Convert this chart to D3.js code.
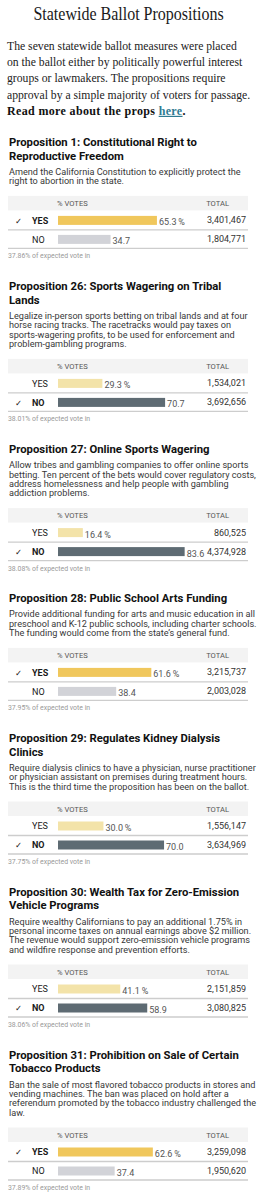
<!DOCTYPE html>
<html>
<head>
<meta charset="utf-8">
<script src="https://cdn.jsdelivr.net/npm/d3@7"></script>
<style>
  html, body { margin: 0; padding: 0; background: #fff; }
  svg { display: block; }
  .sans { font-family: Roboto, "Liberation Sans", sans-serif; }
  .serif { font-family: "Liberation Serif", "DejaVu Serif", serif; }
</style>
</head>
<body>
<svg></svg>
<script>
var pageTitle = "Statewide Ballot Propositions";
var introLines = [
  "The seven statewide ballot measures were placed",
  "on the ballot either by politically powerful interest",
  "groups or lawmakers. The propositions require",
  "approval by a simple majority of voters for passage."
];
var introLink = ["Read more about the props ", "here", "."];

var titleLines = [
  ["Proposition 1: Constitutional Right to", "Reproductive Freedom"],
  ["Proposition 26: Sports Wagering on Tribal", "Lands"],
  ["Proposition 27: Online Sports Wagering"],
  ["Proposition 28: Public School Arts Funding"],
  ["Proposition 29: Regulates Kidney Dialysis", "Clinics"],
  ["Proposition 30: Wealth Tax for Zero-Emission", "Vehicle Programs"],
  ["Proposition 31: Prohibition on Sale of Certain", "Tobacco Products"]
];
var descLines = [
  ["Amend the California Constitution to explicitly protect the",
   "right to abortion in the state."],
  ["Legalize in-person sports betting on tribal lands and at four",
   "horse racing tracks. The racetracks would pay taxes on",
   "sports-wagering profits, to be used for enforcement and",
   "problem-gambling programs."],
  ["Allow tribes and gambling companies to offer online sports",
   "betting. Ten percent of the bets would cover regulatory costs,",
   "address homelessness and help people with gambling",
   "addiction problems."],
  ["Provide additional funding for arts and music education in all",
   "preschool and K-12 public schools, including charter schools.",
   "The funding would come from the state\u2019s general fund."],
  ["Require dialysis clinics to have a physician, nurse practitioner",
   "or physician assistant on premises during treatment hours.",
   "This is the third time the proposition has been on the ballot."],
  ["Require wealthy Californians to pay an additional 1.75% in",
   "personal income taxes on annual earnings above $2 million.",
   "The revenue would support zero-emission vehicle programs",
   "and wildfire response and prevention efforts."],
  ["Ban the sale of most flavored tobacco products in stores and",
   "vending machines. The ban was placed on hold after a",
   "referendum promoted by the tobacco industry challenged the",
   "law."]
];
var yesPct = [65.3, 29.3, 16.4, 61.6, 30.0, 41.1, 62.6];
var noPct = [34.7, 70.7, 83.6, 38.4, 70.0, 58.9, 37.4];
var yesVotes = [3401467, 1534021, 860525, 3215737, 1556147, 2151859, 3259098];
var noVotes = [1804771, 3692656, 4374928, 2003028, 3634969, 3080825, 1950620];
var reporting = [37.86, 38.01, 38.08, 37.95, 37.75, 38.06, 37.89];
var headerLabels = ["% VOTES", "TOTAL"];

var width = 257, height = 1200;
var svg = d3.select("svg").attr("width", width).attr("height", height);

var colors = {
  YES: { win: "#f0c75c", lose: "#f3e3a9" },
  NO:  { win: "#5e6b73", lose: "#d2d3d8" }
};

var x = d3.scaleLinear().domain([0, 100]).range([58, 209.5]);
var fmtPct = d3.format(".1f"), fmtNum = d3.format(","), fmtRep = d3.format(".2f");

// page heading + intro
svg.append("text")
    .attr("class", "serif")
    .attr("transform", "translate(" + (width / 2) + ",19.5) scale(0.89,1)")
    .attr("text-anchor", "middle")
    .attr("font-size", 18)
    .attr("fill", "#1a1a1a")
    .text(pageTitle);

svg.selectAll("text.intro")
  .data(introLines)
  .join("text")
    .attr("class", "intro serif")
    .attr("x", 7)
    .attr("y", (d, i) => 50 + i * 16.2)
    .attr("font-size", 11.7)
    .attr("fill", "#222")
    .text(d => d);

var link = svg.append("text")
    .attr("class", "serif")
    .attr("x", 7)
    .attr("y", 50 + 4 * 16.2)
    .attr("font-size", 12)
    .attr("letter-spacing", 0.35)
    .attr("font-weight", "bold")
    .attr("fill", "#111");
link.append("tspan").text(introLink[0]);
link.append("tspan").attr("fill", "#2f7b92").attr("text-decoration", "underline").text(introLink[1]);
link.append("tspan").text(introLink[2]);

var y = 145.7;  // baseline of first proposition title

titleLines.forEach(function(tl, i) {
  var g = svg.append("g").attr("class", "sans");

  g.selectAll("text.title")
    .data(tl)
    .join("text")
      .attr("class", "title")
      .attr("x", 9)
      .attr("y", (d, j) => y + j * 13.8)
      .attr("font-size", 11.3)
      .attr("font-weight", 700)
      .attr("fill", "#111")
      .text(d => d);

  var descY = y + (tl.length - 1) * 13.8 + 15.3;
  var dl = descLines[i];
  g.selectAll("text.desc")
    .data(dl)
    .join("text")
      .attr("class", "desc")
      .attr("x", 9)
      .attr("y", (d, j) => descY + j * 9.4)
      .attr("font-size", 9.15)
      .attr("fill", "#383838")
      .text(d => d);

  var top = descY + (dl.length - 1) * 9.4 + 11.7;

  g.append("rect")
      .attr("x", 8).attr("y", top)
      .attr("width", 240).attr("height", 14.5)
      .attr("fill", "#f3f3f3");
  g.append("text")
      .attr("x", 57).attr("y", top + 10.3)
      .attr("font-size", 7.6).attr("fill", "#555")
      .text(headerLabels[0]);
  g.append("text")
      .attr("x", 229).attr("y", top + 10.3)
      .attr("text-anchor", "end")
      .attr("font-size", 7.6).attr("fill", "#555")
      .text(headerLabels[1]);

  var yesWins = yesPct[i] > noPct[i];
  var rows = [
    { key: "YES", pct: yesPct[i], votes: yesVotes[i], win: yesWins, cy: top + 24.5, bottom: top + 34 },
    { key: "NO", pct: noPct[i], votes: noVotes[i], win: !yesWins, cy: top + 43.5, bottom: top + 52.5 }
  ];

  var row = g.selectAll("g.row")
    .data(rows)
    .join("g")
      .attr("class", "row");

  row.append("line")
      .attr("x1", 8).attr("x2", 248)
      .attr("y1", d => d.bottom).attr("y2", d => d.bottom)
      .attr("stroke", "#cdcdcd").attr("stroke-width", 1.4);

  row.filter(d => d.win).append("text")
      .attr("x", 15).attr("y", d => d.cy + 3.3)
      .attr("font-family", "DejaVu Sans")
      .attr("font-size", 8.5).attr("fill", "#222")
      .text("\u2713");

  row.append("text")
      .attr("x", 32).attr("y", d => d.cy + 3.2)
      .attr("font-size", 9)
      .attr("font-weight", d => d.win ? 700 : 400)
      .attr("fill", "#1a1a1a")
      .text(d => d.key);

  row.append("rect")
      .attr("x", x(0)).attr("y", d => d.cy - 4.5)
      .attr("width", d => x(d.pct) - x(0)).attr("height", 9)
      .attr("fill", d => d.win ? colors[d.key].win : colors[d.key].lose);

  row.append("text")
      .attr("x", d => x(d.pct) + 2).attr("y", d => d.cy + 5)
      .attr("font-size", 9).attr("fill", "#555")
      .text(d => fmtPct(d.pct) + (d.key === "YES" ? "\u2009%" : ""));

  row.append("text")
      .attr("x", 246).attr("y", d => d.cy + 3)
      .attr("text-anchor", "end")
      .attr("font-size", 9).attr("fill", "#333")
      .text(d => fmtNum(d.votes));

  g.append("text")
      .attr("x", 8).attr("y", top + 62.4)
      .attr("font-size", 6.9).attr("fill", "#999")
      .text(fmtRep(reporting[i]) + "% of expected vote in");

  y = top + 94;
});
</script>
</body>
</html>
